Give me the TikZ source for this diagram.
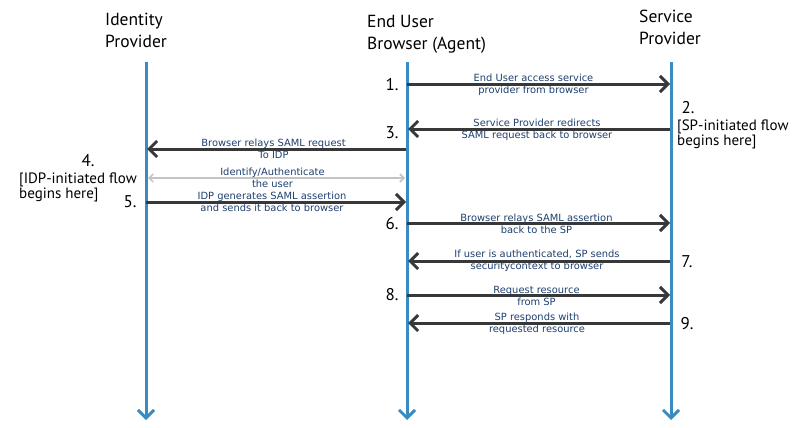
\documentclass[tikz,border=0pt]{standalone}
\usepackage{fontspec}
\setmainfont{PT Sans}
\newfontfamily\lblfont{DejaVu Sans}
\usetikzlibrary{arrows.meta}
\definecolor{life}{HTML}{3A8BC2}
\definecolor{msg}{HTML}{383838}
\definecolor{idgray}{HTML}{C4C4C4}
\definecolor{lbl}{HTML}{1E3F6E}
\begin{document}
\begin{tikzpicture}[x=1pt,y=-1pt,
  lifeline/.style={draw=life,line width=3,-{Straight Barb[length=8,width=16,line width=3]}},
  msgarrow/.style={draw=msg,line width=3,-{Straight Barb[length=8,width=16,line width=3]}},
  idarrow/.style={draw=idgray,line width=1.6,{Straight Barb[length=4,width=8]}-{Straight Barb[length=4,width=8]}},
  lbltext/.style={text=lbl,font=\lblfont\fontsize{9.9}{12.3}\selectfont,align=center,inner sep=0},
  titletext/.style={font=\fontsize{17.5}{22}\selectfont,align=left,inner sep=0,anchor=north west},
  numtext/.style={font=\fontsize{17}{17}\selectfont,inner sep=0},
  notetext/.style={font=\fontsize{15}{14.5}\selectfont,align=left,inner sep=0,anchor=north west}]
\useasboundingbox (0,0) rectangle (800,428);

% titles
\node[titletext] (tidp) at (105,13) {Identity\\Provider};
\node[titletext] (tbr) at (367,15) {End User\\Browser (Agent)};
\node[titletext] (tsp) at (639,10) {Service\\Provider};

% lifelines
\coordinate (idpT) at (146,62); \coordinate (idpB) at (146,420);
\coordinate (brT) at (407,62); \coordinate (brB) at (407,420);
\coordinate (spT) at (671,62); \coordinate (spB) at (671,420);
\draw[lifeline] (idpT) -- (idpB);
\draw[lifeline] (brT) -- (brB);
\draw[lifeline] (spT) -- (spB);

% message end points
\coordinate (b1) at (407,84);  \coordinate (s1) at (670,84);
\coordinate (b2) at (408,129); \coordinate (s2) at (670,129);
\coordinate (b3) at (406,149); \coordinate (i3) at (147,149);
\coordinate (i4) at (148,178); \coordinate (b4) at (405,178);
\coordinate (i5) at (146,202); \coordinate (b5) at (406,202);
\coordinate (b6) at (407,223); \coordinate (s6) at (670,223);
\coordinate (s7) at (670,261); \coordinate (b7) at (408,261);
\coordinate (b8) at (407,295); \coordinate (s8) at (670,295);
\coordinate (s9) at (670,323); \coordinate (b9) at (408,323);

% messages
\draw[msgarrow] (b1) -- (s1) node[lbltext,midway,xshift=-5,yshift=-1] (l1) {End User access service\\provider from browser};
\draw[msgarrow] (s2) -- (b2) node[lbltext,midway,xshift=-2,yshift=-0.5] (l2) {Service Provider redirects\\SAML request back to browser};
\draw[msgarrow] (b3) -- (i3) node[lbltext,midway,xshift=-3,yshift=0] (l3) {Browser relays SAML request\\To IDP};
\draw[idarrow] (i4) -- (b4) node[lbltext,midway,xshift=-4,yshift=0.5] (l4) {Identify/Authenticate\\the user};
\draw[msgarrow] (i5) -- (b5) node[lbltext,midway,xshift=-4,yshift=0.5] (l5) {IDP generates SAML assertion\\and sends it back to browser};
\draw[msgarrow] (b6) -- (s6) node[lbltext,midway,xshift=-2,yshift=-0.5] (l6) {Browser relays SAML assertion\\back to the SP};
\draw[msgarrow] (s7) -- (b7) node[lbltext,midway,xshift=-2,yshift=0] (l7) {If user is authenticated, SP sends\\securitycontext to browser};
\draw[msgarrow] (b8) -- (s8) node[lbltext,midway,xshift=-2,yshift=-1] (l8) {Request resource\\from SP};
\draw[msgarrow] (s9) -- (b9) node[lbltext,midway,xshift=-2,yshift=-1] (l9) {SP responds with\\requested resource};

% step numbers
\node[numtext] (n1) at (392,85) {1.};
\node[numtext] (n2) at (688,108) {2.};
\node[numtext] (n3) at (392,133) {3.};
\node[numtext] (n4) at (88,161) {4.};
\node[numtext] (n5) at (130,202) {5.};
\node[numtext] (n6) at (392,224) {6.};
\node[numtext] (n7) at (687,262) {7.};
\node[numtext] (n8) at (392,295) {8.};
\node[numtext] (n9) at (687,324) {9.};

% notes
\node[notetext] (sp2) at (677,120) {[SP-initiated flow\\begins here]};
\node[notetext] (idp4) at (19,173) {[IDP-initiated flow\\begins here]};
\end{tikzpicture}
\end{document}
